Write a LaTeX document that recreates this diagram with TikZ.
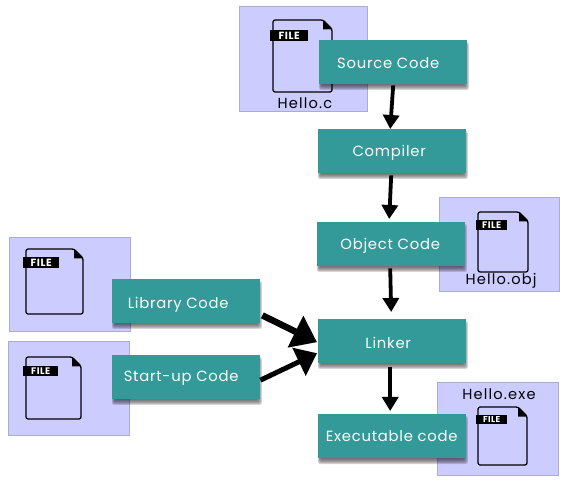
\documentclass[tikz,border=0pt]{standalone}
\usepackage{fontspec}
\setmainfont[LetterSpace=5]{Poppins}
\usetikzlibrary{arrows.meta,calc}
\definecolor{tealbox}{HTML}{339999}
\definecolor{lav}{HTML}{CCCCFF}
\definecolor{lavedge}{HTML}{ABABD6}
\tikzset{
  x=1pt,y=-1pt,
  stepbox/.style={fill=tealbox,inner sep=0pt,minimum width=148pt,minimum height=44pt,text height=10.4pt,text depth=0pt,text=white,font=\fontsize{14.8}{16}\selectfont},
  flow/.style={line width=3.8pt,-{Triangle[width=16pt,length=14pt]},black},
  bigflow/.style={line width=6.5pt,-{Triangle[width=34pt,length=24pt]},black},
  midflow/.style={line width=5pt,-{Triangle[width=30pt,length=20pt]},black},
  caption/.style={font=\addfontfeatures{LetterSpace=8}\fontsize{14.6}{16}\selectfont,text=black,inner sep=0pt},
}
\newcommand{\panelrect}[5]{\node[fill=lav,draw=lavedge,line width=.5pt,inner sep=0pt,minimum width=#4pt-#2pt,minimum height=#5pt-#3pt,anchor=north west] (#1) at (#2,#3) {};}
\newcommand{\fileicon}[9]{%
  \draw[line width=1.3pt,black,rounded corners=2.2pt,fill=lav] (#2,#3) -- (#4-9,#3) -- (#4,#3+9) -- (#4,#5) -- (#2,#5) -- cycle;
  \fill[black] (#4-9,#3) -- (#4,#3+9.5) -- (#4-9,#3+9.5) -- cycle;
  \pgfmathsetmacro\tagsz{(#9-#7)*0.95}
  \node[fill=black,inner sep=0pt,minimum width=#8pt-#6pt,minimum height=#9pt-#7pt,anchor=north west,text=white,font=\fontsize{\tagsz}{\tagsz}\bfseries\selectfont] (#1) at (#6,#7) {FILE};
}
% name, x1, y1, text, left shift of the text (twice the offset), downward shift
\newcommand{\tealnode}[6]{%
  \foreach \s/\o in {0/.08,1/.09,2/.10,3/.11,4/.12,5/.14,6/.16}{
    \fill[black,opacity=\o,rounded corners=2pt] (#2+3-\s*.5,#3+8-\s) rectangle (#2+145+\s*.8,#3+44+\s);
  }
  \node[stepbox,anchor=north west] (#1) at (#2,#3) {\smash{\raisebox{-#6pt}{#4}}\hspace*{#5pt}};
}
\begin{document}
\begin{tikzpicture}
\useasboundingbox (0,0) rectangle (584,494);
\fill[white] (0,0) rectangle (584,494);
\panelrect{pc}{239}{6}{367}{111}
\panelrect{pobj}{439}{197}{559}{291}
\panelrect{pexe}{437}{382}{558}{475}
\panelrect{plib}{9}{237}{130}{331}
\panelrect{pst}{8}{341}{129}{435}
\fileicon{ic}{273}{20}{332}{92}{270}{30}{308}{41}
\fileicon{iobj}{478}{212}{528}{272}{476}{220}{507}{230}
\fileicon{iexe}{478}{407}{527}{465}{476}{415}{507}{424}
\fileicon{ilib}{26}{249}{83}{314}{23}{257}{59}{268}
\fileicon{ist}{26}{357}{81}{419}{23}{366}{58}{376}
\node[caption] (cc) at (305,103) {Hello.c};
\node[caption] (cobj) at (501,281) {Hello.obj};
\node[caption] (cexe) at (499,394) {Hello.exe};
\tealnode{src}{319}{40}{Source Code}{10}{1.5}
\tealnode{comp}{318}{129}{Compiler}{6}{0.5}
\tealnode{objc}{317}{222}{Object Code}{2}{0.5}
\tealnode{link}{318}{319}{Linker}{8}{2}
\tealnode{exec}{318}{414}{Executable code}{1}{0}
\tealnode{lib}{112}{279}{Library Code}{16}{2}
\tealnode{start}{112}{355}{Start-up Code}{10}{-1}
\draw[flow] ([yshift=-1pt]src.south) -- ([xshift=-2pt]comp.north);
\draw[flow] ([xshift=-1pt,yshift=-2pt]comp.south) -- ([xshift=-2pt,yshift=3pt]objc.north);
\draw[flow] ([xshift=-1pt,yshift=-2pt]objc.south) -- ([xshift=-1pt,yshift=7pt]link.north);
\draw[flow] ([xshift=-2pt,yshift=-4pt]link.south) -- ([xshift=-2pt,yshift=3pt]exec.north);
\draw[bigflow] ([xshift=2pt,yshift=8pt]lib.south east) -- ([xshift=-1pt,yshift=-1pt]link.west);
\draw[midflow] ([yshift=-3pt]start.east) -- ([xshift=-1pt,yshift=-12pt]link.west);
\end{tikzpicture}
\end{document}
